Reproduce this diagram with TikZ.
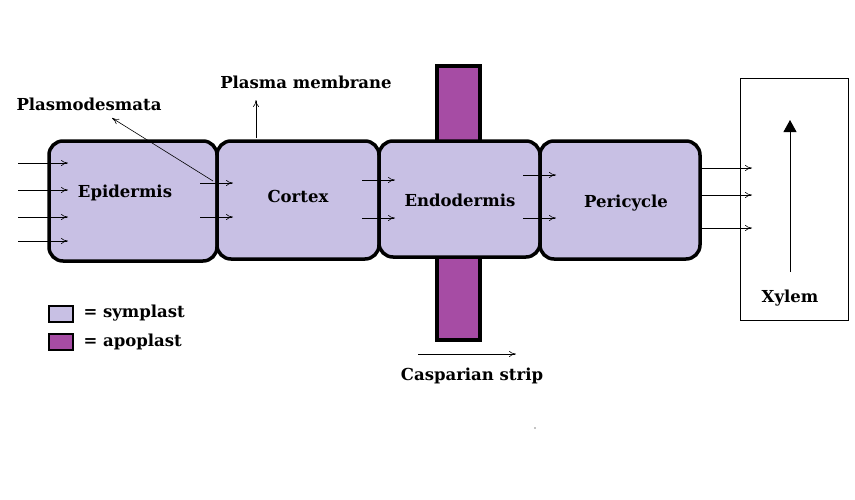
\documentclass[tikz,border=0pt]{standalone}
\usepackage{fontspec}
\setmainfont{DejaVu Serif}
\usetikzlibrary{arrows.meta}
\definecolor{sym}{HTML}{C8C0E4}
\definecolor{apo}{HTML}{A64CA4}
\begin{document}
\begin{tikzpicture}[x=1pt,y=-1pt,
  cell/.style={draw=black,line width=3.5pt,fill=sym,rounded corners=14pt},
  strip/.style={draw=black,line width=3.5pt,fill=apo},
  lab/.style={font=\bfseries\fontsize{16.5}{18}\selectfont},
  flow/.style={-{To[length=7pt,width=6pt]},line width=0.6pt}]
\useasboundingbox (0,0) rectangle (855,499);
\fill[white] (0,0) rectangle (855,499);
\draw[strip] (437,66) rectangle (480,145);
\draw[strip] (437,255) rectangle (480,340);
\draw[cell] (49,141) rectangle (217,261);
\draw[cell] (217,141) rectangle (379,259);
\draw[cell] (379,141) rectangle (540,257);
\draw[cell] (540,141) rectangle (700,259);
\node[lab] (epi) at (125,193) {Epidermis};
\node[lab] (cor) at (298,196) {Cortex};
\node[lab] (endo) at (460,200) {Endodermis};
\node[lab] (peri) at (626,203) {Pericycle};
% flows
\foreach \y in {163,190,217,241} {\coordinate (a\y) at (18,\y); \coordinate (b\y) at (68,\y); \draw[flow] (a\y) -- (b\y);}
\foreach \x/\y in {200/183,200/217,362/180,362/218,523/175,523/218} {\coordinate (c) at (\x,\y); \coordinate (d) at (\x+33,\y); \draw[flow] (c) -- (d);}
\foreach \y in {168,195,228} {\coordinate (e) at (700,\y); \coordinate (f) at (752,\y); \draw[flow] (e) -- (f);}
% xylem
\node[draw,line width=0.6pt,minimum width=108pt,minimum height=242pt] (xb) at (794,199) {};
\coordinate (x1) at (790,272); \coordinate (x2) at (790,120);
\draw[-{Triangle[length=12pt,width=13pt]},line width=0.8pt] (x1) -- (x2);
\node[lab] (xyl) at (790,298) {Xylem};
% labels
\node[lab] (pd) at (89,104) {Plasmodesmata};
\coordinate (pd1) at (213,181); \coordinate (pd2) at (112,118);
\draw[flow] (pd1) -- (pd2);
\node[lab] (pm) at (306,82) {Plasma membrane};
\coordinate (pm1) at (256,138); \coordinate (pm2) at (256,100);
\draw[flow] (pm1) -- (pm2);
\node[lab] (cs) at (472,376) {Casparian strip};
\coordinate (cs1) at (418,354); \coordinate (cs2) at (516,354);
\draw[flow] (cs1) -- (cs2);
% legend
\draw[line width=1.8pt,fill=sym] (49,306) rectangle (73,322);
\draw[line width=1.8pt,fill=apo] (49,334) rectangle (73,350);
\node[lab,anchor=west] (ls) at (80,313) {= symplast};
\node[lab,anchor=west] (la) at (80,342) {= apoplast};
\fill (535,428) circle (0.7);
\end{tikzpicture}
\end{document}
